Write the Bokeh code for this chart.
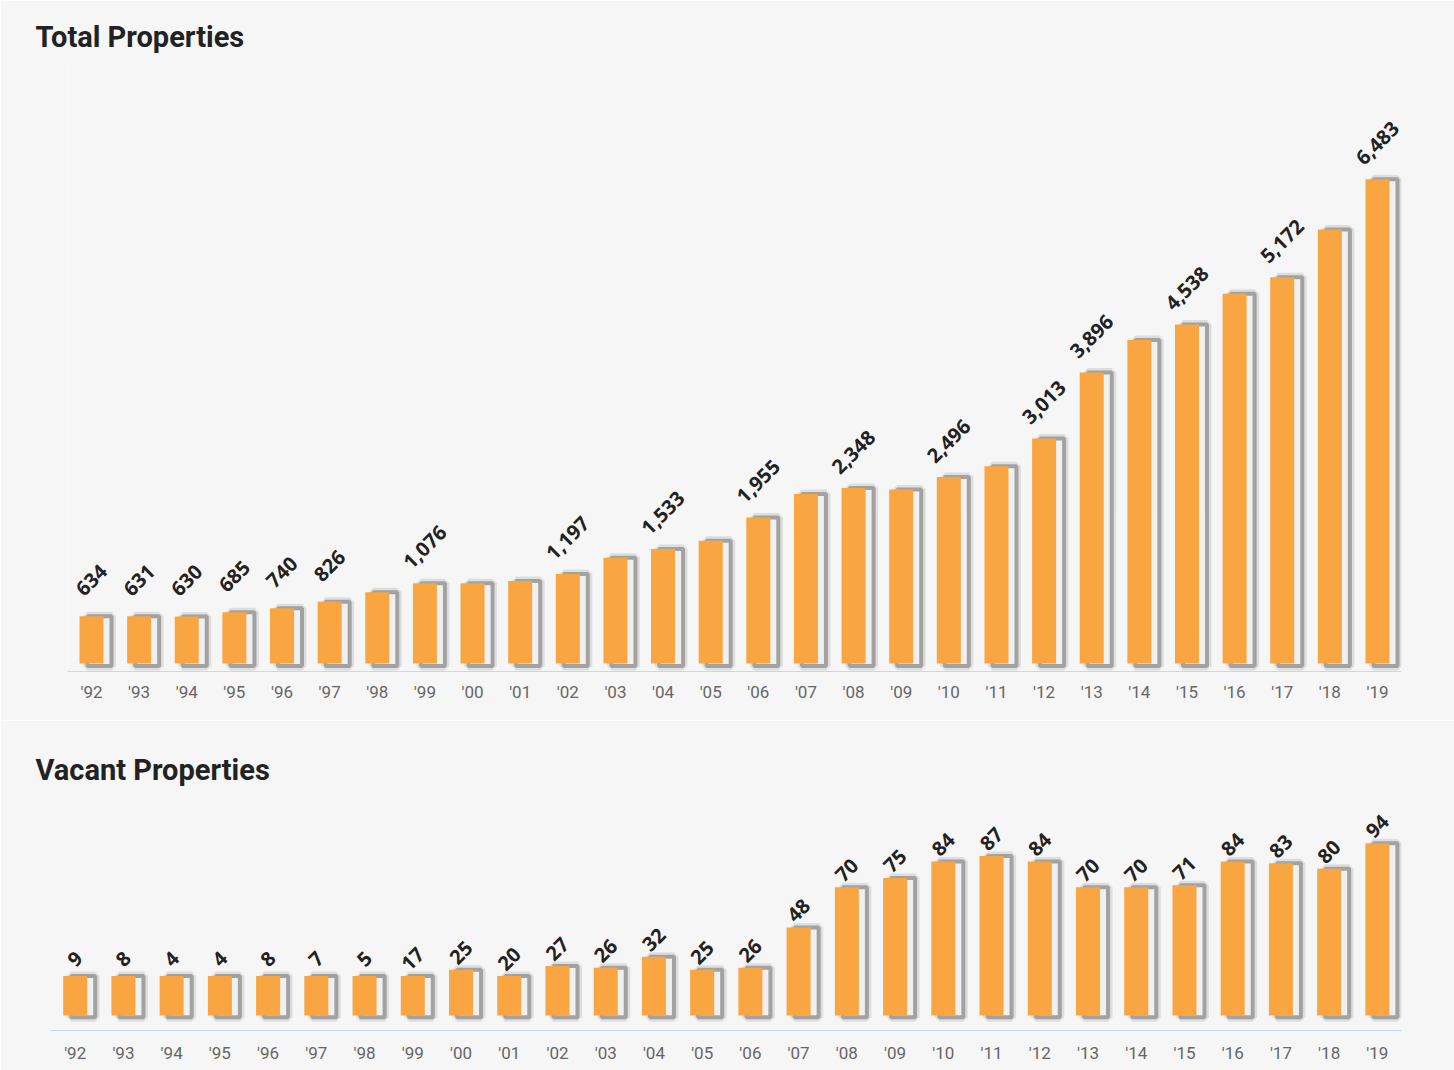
import numpy as np
from bokeh.plotting import figure
from bokeh.models import ColumnDataSource, Range1d, FixedTicker
from bokeh.layouts import column, row
from bokeh.embed import file_html
from bokeh.resources import INLINE
from bokeh.core.properties import value

# ---------------- data ----------------
years = ["'92", "'93", "'94", "'95", "'96", "'97", "'98", "'99", "'00", "'01",
         "'02", "'03", "'04", "'05", "'06", "'07", "'08", "'09", "'10", "'11",
         "'12", "'13", "'14", "'15", "'16", "'17", "'18", "'19"]

total = [634, 631, 630, 685, 740, 826, 955, 1076, 1073, 1105,
         1197, 1417, 1533, 1644, 1955, 2270, 2348, 2330, 2496, 2640,
         3013, 3896, 4330, 4538, 4950, 5172, 5810, 6483]
# years whose value label is shown in the Total chart
total_labelled = ["'92", "'93", "'94", "'95", "'96", "'97", "'99", "'02", "'04",
                  "'06", "'08", "'10", "'12", "'13", "'15", "'17", "'19"]

vacant = [9, 8, 4, 4, 8, 7, 5, 17, 25, 20,
          27, 26, 32, 25, 26, 48, 70, 75, 84, 87,
          84, 70, 70, 71, 84, 83, 80, 94]
vacant_labelled = years
vacant_min_visible = 21.5   # smallest drawn bar height (in value units)

BG = "#f6f6f6"
ORANGE = "#F9A541"
W = 1454


def fmt(v):
    return f"{v:,}"


def make_chart(title, values, labelled, xr, yr, height, b_left, b_top, b_bottom,
               min_visible, label_off, title_standoff, bar_w, shadow_dx,
               shadow_drop, tick_standoff):
    idx = list(range(len(years)))
    tops = [max(v, min_visible) for v in values]
    labels = [fmt(v) if y in labelled else "" for y, v in zip(years, values)]
    src = ColumnDataSource(dict(x=idx, sx=[i + shadow_dx for i in idx], top=tops,
                                label=labels, sb=[-shadow_drop] * len(years)))
    p = figure(x_range=Range1d(*xr), y_range=Range1d(*yr),
               width=W, height=height, output_backend="svg",
               toolbar_location=None, y_axis_location=None,
               min_border_left=b_left, min_border_right=53,
               min_border_top=b_top, min_border_bottom=b_bottom,
               background_fill_color=BG, border_fill_color=BG,
               outline_line_color=None)
    p.xgrid.grid_line_color = None
    p.ygrid.grid_line_color = None

    p.title.text = title
    p.title.text_font = "Roboto"
    p.title.text_font_size = "29px"
    p.title.text_font_style = "bold"
    p.title.text_color = "#222222"
    p.title.align = "left"
    p.title.offset = 35 - b_left
    p.title.standoff = title_standoff

    p.vbar(x="sx", top="top", bottom="sb", width=bar_w, source=src,
           fill_color="#d8d8d8", fill_alpha=0.3,
           line_color="#bcbcbc", line_width=9, line_alpha=0.4)
    p.vbar(x="sx", top="top", bottom="sb", width=bar_w, source=src,
           fill_color="#f0f0f0", line_color="#a2a2a2", line_width=4)
    p.vbar(x="x", top="top", bottom=0, width=bar_w, source=src,
           fill_color=ORANGE, line_color=None)

    p.text(x="x", y="top", text="label", source=src, angle=np.pi / 4,
           text_align="center", text_baseline="middle", y_offset=-label_off,
           text_font=value("Open Sans"), text_font_style="bold",
           text_font_size="20px", text_color="#222222")

    ax = p.xaxis[0]
    ax.ticker = FixedTicker(ticks=idx)
    ax.major_label_overrides = {i: y for i, y in zip(idx, years)}
    ax.axis_line_color = "#ccd6eb"
    ax.axis_line_width = 1
    ax.major_tick_line_color = None
    ax.minor_tick_line_color = None
    ax.major_tick_out = 0
    ax.major_tick_in = 0
    ax.major_label_standoff = tick_standoff
    ax.major_label_text_font = "Roboto"
    ax.major_label_text_font_size = "17px"
    ax.major_label_text_color = "#666666"
    return p


# Total chart: 47.63 px per year, zero 8px above the axis line, 0.0747 px per unit
p1 = make_chart("Total Properties", total, total_labelled,
                xr=(-0.504, 27.504), yr=(-107, 8072), height=720, b_left=67,
                b_top=60, b_bottom=49, min_visible=0, label_off=36, title_standoff=14,
                bar_w=0.504, shadow_dx=0.168, shadow_drop=35, tick_standoff=10)

# Vacant chart: 48.23 px per year, zero 15px above the axis line, 1.833 px per unit
p2 = make_chart("Vacant Properties", vacant, vacant_labelled,
                xr=(-0.512, 27.5), yr=(-8.2, 122.75), height=350, b_left=50,
                b_top=70, b_bottom=40, min_visible=vacant_min_visible, label_off=17,
                title_standoff=8, bar_w=0.498, shadow_dx=0.166, shadow_drop=1.0,
                tick_standoff=12)

layout = column(row(p1), row(p2))
open("out.html", "w").write(file_html(layout, INLINE))
